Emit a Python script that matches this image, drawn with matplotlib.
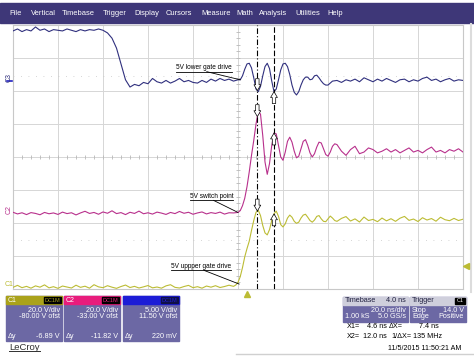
import numpy as np
import matplotlib
matplotlib.use("Agg")
import matplotlib.pyplot as plt
from matplotlib.patches import Rectangle
from matplotlib.transforms import IdentityTransform
from matplotlib.lines import Line2D

plt.rcParams['font.family'] = ['Liberation Sans', 'DejaVu Sans']

# ---- scope settings (from the readouts) ----
ns_per_div = 20.0
t_left = -104.0          # trigger (t=0) sits 0.2 div right of center, delay 4.0 ns
cursor_x1 = 4.6
cursor_x2 = 12.0
trig_level = 14.0        # V on C1

c1_vdiv, c1_ofst = 20.0, -80.0
c2_vdiv, c2_ofst = 20.0, -33.0
c3_vdiv, c3_ofst = 5.0, 11.50

# ---- C3: 5V lower gate drive (V) ----
c3_t = ([-104, -102, -100, -98, -96, -94, -92, -90, -88, -86, -84, -82, -80, -78, -76,
         -74, -72, -70, -68, -66, -64, -62, -60, -58, -56, -54, -52, -50, -48, -46,
         -44, -42, -40, -38, -36, -34, -32, -30, -28, -26, -24, -22, -20, -18, -16,
         -14, -12, -10, -8, -6, -4]
        + list(range(-3, 39))
        + list(range(40, 97, 2)))
c3_v = [7.6, 7.9, 7.5, 7.8, 7.6, 8.2, 7.7, 7.9, 7.5, 7.8, 7.7, 7.6, 7.9, 7.7, 7.5,
        7.8, 7.6, 7.8, 7.7, 7.9, 7.7, 7.3, 6.5, 5.0, 2.6, 0.2, -0.9, -0.5, -0.7, -0.2,
        -0.4, 0.4, -0.1, -0.3, 0.1, -0.3, 0.0, 0.4, -0.1, 0.1, -0.2, -0.3, 0.1, -0.2, 0.3,
        0.0, 0.4, 0.1, 0.3, 0.0, 0.2,
        # ringing
        0.2, 0.8, 1.8, 2.6, 2.7, 2.0, 0.5, -1.2, -1.6, -0.8, 0.8, 2.2, 2.7, 1.9, 0.0,
        -1.6, -1.2, 0.2, 1.7, 2.6, 2.7, 2.2, 1.0, -0.6, -1.7, -2.1, -1.6, -0.6, 0.2, 0.6,
        0.6, 0.2, 0.3, 0.8, 0.9, 0.5, 0.0, -0.4, -0.6, -0.6, -0.3, 0.0,
        # settled
        0.1, -0.2, 0.2, 0.0, 0.3, -0.1, 0.5, 0.2, -0.1, 0.3, 0.0, 0.4, 0.1, -0.2, 0.2,
        0.3, -0.1, 0.2, 0.0, 0.4, 0.6, 0.1, 0.3, -0.1, 0.2, 0.4, 0.0, 0.2, 0.1]

# ---- C2: 5V switch point (V) ----
c2_t = list(range(-104, -3, 2)) + list(range(-3, 41)) + list(range(42, 97, 2))
c2_v = [-0.5, -1.5, -0.8, -1.9, -0.7, -1.2, -2.0, -0.6, -1.4, -0.9, -1.8, -0.4, -1.3,
        -0.8, -2.1, -0.9, 0.1, -1.2, -0.6, -1.7, -0.3, -1.1, 0.4, -1.3, -0.7, -1.9, -0.5,
        -1.2, 0.2, -1.4, -0.8, -1.6, -0.4, -1.0, -1.8, -0.6, -1.3, 0.0, -1.1, -0.5, -1.7,
        -0.9, -0.3, -1.5, -0.7, -1.2, -0.4, -1.6, -0.8, -0.9, -0.6,
        # edge + ringing
        0.5, 3.5, 8.0, 15.0, 24.0, 34.0, 43.0, 53.0, 60.5, 59.0, 46.0, 30.0, 22.5, 29.0,
        40.0, 47.5, 47.0, 40.0, 33.0, 31.0, 36.0, 42.5, 45.0, 42.0, 36.5, 32.5, 33.5, 38.0,
        42.5, 43.5, 40.0, 35.5, 33.0, 35.0, 39.0, 42.0, 41.5, 38.0, 34.5, 33.5, 36.0, 39.5,
        41.0, 40.5,
        # settled
        36.5, 34.0, 37.5, 39.5, 35.0, 36.0, 38.5, 37.5, 35.5, 36.5, 38.0, 36.0, 37.5, 35.5,
        37.0, 38.5, 36.0, 37.0, 35.5, 37.5, 39.0, 36.0, 37.0, 35.5, 37.5, 36.5, 38.0, 36.0]

# ---- C1: 5V upper gate drive (V) ----
c1_t = list(range(-104, -5, 2)) + list(range(-5, 41)) + list(range(42, 97, 2))
c1_v = [1.0, 2.2, 0.8, 1.6, 0.5, 1.9, 1.1, 2.5, 0.7, 1.4, 0.4, 1.8, 1.2, 0.6, 2.3,
        1.0, 1.7, 0.5, 2.6, 1.3, 0.8, 2.0, 1.1, 0.4, 1.5, 2.4, 0.9, 1.6, 0.6, 1.3,
        2.1, 0.7, 1.2, 0.5, 1.9, 2.6, 1.0, 0.6, 1.5, 2.2, 0.8, 1.4, 0.5, 1.8, 1.1,
        2.0, 0.9, 1.5, 2.3, 1.6,
        # edge + ringing
        2.4, 4.0, 7.5, 13.0, 19.5, 24.5, 29.0, 35.5, 41.5, 46.5, 47.8, 44.5, 38.5, 34.0,
        32.8, 36.0, 41.5, 45.5, 47.2, 44.0, 39.0, 37.6, 39.5, 43.0, 44.8, 43.5, 41.0, 39.8,
        40.5, 43.0, 44.8, 45.3, 43.5, 41.5, 40.5, 41.8, 44.0, 44.5, 42.5, 41.0, 40.8, 42.5,
        44.2, 43.0, 41.5, 41.0,
        # settled
        42.8, 43.9, 41.2, 42.5, 40.6, 43.6, 41.5, 42.2, 40.8, 43.0, 41.3, 42.6, 41.0, 42.9,
        44.0, 41.6, 42.4, 40.9, 43.2, 41.8, 42.7, 41.1, 43.5, 42.0, 41.4, 42.8, 41.5, 42.3]

# colours
col_c1 = '#bcbc34'
col_c2 = '#b8308c'
col_c3 = '#30307e'
box_body = '#6c68a4'


def to_div(v, vdiv, ofst):
    return (np.asarray(v) + ofst) / vdiv


c1_d = to_div(c1_v, c1_vdiv, c1_ofst)
c2_d = to_div(c2_v, c2_vdiv, c2_ofst)
c3_d = to_div(c3_v, c3_vdiv, c3_ofst)

fig = plt.figure(figsize=(4.74, 3.56), dpi=100)
fig.patch.set_facecolor('white')

# overlay in pixel coords for the scope chrome
ov = fig.add_axes([0, 0, 1, 1])
ov.set_xlim(0, 474)
ov.set_ylim(356, 0)
ov.axis('off')
ov.set_zorder(0)

# grid area
ax = fig.add_axes([13 / 474, (356 - 289) / 356, 450 / 474, 264 / 356])
ax.set_zorder(1)
t_right = t_left + 10 * ns_per_div
ax.set_xlim(t_left, t_right)
ax.set_ylim(-4, 4)
ax.set_xticks(np.arange(t_left, t_right + 0.1, ns_per_div))
ax.set_yticks(np.arange(-4, 5, 1))
ax.grid(True, color='#d6d6d6', lw=0.7)
ax.tick_params(length=0, labelbottom=False, labelleft=False)
for s in ax.spines.values():
    s.set_color('#c8c8c8')
    s.set_linewidth(0.8)

# center axis ticks
center_t = t_left + 5 * ns_per_div
ax.vlines(np.arange(t_left, t_right + 0.1, ns_per_div / 5), -0.07, 0.07, color='#b8b8b8', lw=0.6)
ax.hlines(np.arange(-4, 4.01, 0.2), center_t - 0.7, center_t + 0.7, color='#b8b8b8', lw=0.6)
for yy in [2.45, -2.5]:
    ax.axhline(yy, color='#c8c8c8', lw=0.6, ls=(0, (1, 8)))

# traces
ax.plot(c3_t, c3_d, color=col_c3, lw=0.8, zorder=3)
ax.plot(c2_t, c2_d, color=col_c2, lw=0.8, zorder=3)
ax.plot(c1_t, c1_d, color=col_c1, lw=0.8, zorder=3)

# cursors
ax.axvline(cursor_x1, color='black', lw=0.8, ls=(0, (5, 2, 1, 2)), zorder=4)
ax.axvline(cursor_x2, color='black', lw=0.8, ls=(0, (5, 2)), zorder=4)

arrow_props = dict(arrowstyle='simple,head_length=0.6,head_width=0.7,tail_width=0.35',
                   fc='white', ec='black', lw=0.5, shrinkA=0, shrinkB=0, mutation_scale=7)
for tt, d in [(c3_t, c3_d), (c2_t, c2_d), (c1_t, c1_d)]:
    y1 = np.interp(cursor_x1, tt, d)
    y2 = np.interp(cursor_x2, tt, d)
    ax.annotate('', xy=(cursor_x1, y1), xytext=(cursor_x1, y1 + 0.36), arrowprops=arrow_props, zorder=5)
    ax.annotate('', xy=(cursor_x2, y2), xytext=(cursor_x2, y2 - 0.36), arrowprops=arrow_props, zorder=5)

# labels with leader lines
labels = [
    ('5V lower gate drive', (-31.5, 2.6), (-3.0, to_div(0.2, c3_vdiv, c3_ofst))),
    ('5V switch point', (-25.5, -1.3), (-4.0, to_div(-0.6, c2_vdiv, c2_ofst))),
    ('5V uppper gate drive', (-33.8, -3.42), (-3.5, to_div(3.0, c1_vdiv, c1_ofst))),
]
label_objs = []
for txt, pos, tip in labels:
    tx = ax.text(pos[0], pos[1], txt, fontsize=4.7, ha='left', va='bottom', zorder=5)
    label_objs.append((tx, tip))

# trigger markers
ax.plot([t_right + 1.4], [to_div(trig_level, c1_vdiv, c1_ofst)], marker='<', ms=4,
        color=col_c1, clip_on=False, zorder=6)
ax.plot([0], [-4.14], marker='^', ms=4, color=col_c1, clip_on=False, zorder=6)

# ---- chrome ----
ov.add_patch(Rectangle((0, 3), 474, 20, color='#3e3778'))
menu = ['File', 'Vertical', 'Timebase', 'Trigger', 'Display', 'Cursors', 'Measure',
        'Math', 'Analysis', 'Utilities', 'Help']
menu_x = [9, 31, 62, 103, 134, 166, 201, 236, 259, 295, 327]
for m, mx in zip(menu, menu_x):
    ov.text(mx, 13.5, m, color='white', fontsize=5.4, va='center', ha='left')

ov.plot([471, 471], [24, 292], color='#dcdcdc', lw=1.5)
ov.plot([236, 474], [354, 354], color='#d0d0d0', lw=1.0)

ov.text(9, 77, 'C3', color=col_c3, fontsize=5, rotation=90, ha='center', va='center')
ov.plot([7, 12], [81, 81], color='#2020c0', lw=1.2)
ov.text(9, 209, 'C2', color=col_c2, fontsize=5, rotation=90, ha='center', va='center')
ov.text(9, 284, 'C1', color=col_c1, fontsize=5, ha='center', va='center')

# channel boxes
channels = [
    ('C1', '#aaa21a', '#aaa21a', 6, '20.0 V/div', '-80.00 V ofst', '-6.89 V'),
    ('C2', '#e81c7c', '#e81c7c', 64, '20.0 V/div', '-33.00 V ofst', '-11.82 V'),
    ('C3', '#1c1cd6', '#1c1cd6', 123, '5.00 V/div', '11.50 V ofst', '220 mV'),
]
for name, hcol, tagcol, bx, vd, of, dy in channels:
    w = 56
    ov.add_patch(Rectangle((bx, 296), w, 45, color=box_body))
    ov.add_patch(Rectangle((bx, 296), w, 8, color=hcol))
    tag_bg = '#101048' if name == 'C3' else 'black'
    ov.add_patch(Rectangle((bx + w - 18, 297), 17, 6, color=tag_bg))
    ov.text(bx + w - 9.5, 300.2, 'DC1M', color=tagcol, fontsize=4, ha='center', va='center')
    ov.text(bx + 2, 300.2, name, color='white' if name != 'C3' else hcol, fontsize=5,
            ha='left', va='center')
    ov.text(bx + w - 2, 310, vd, color='white', fontsize=5.2, ha='right', va='center')
    ov.text(bx + w - 2, 317, of, color='white', fontsize=5.2, ha='right', va='center')
    ov.text(bx + 2, 337, 'Δy', color='white', fontsize=5.2, ha='left', va='center')
    ov.text(bx + w - 2, 337, dy, color='white', fontsize=5.2, ha='right', va='center')

lec = ov.text(9, 347, 'LeCroy', color='#303030', fontsize=6.8, ha='left', va='center')

# timebase / trigger boxes
ov.add_patch(Rectangle((343, 297), 65, 25, color=box_body))
ov.add_patch(Rectangle((343, 297), 65, 7.5, color='#cfcfdc'))
ov.text(345, 300.5, 'Timebase', color='#202040', fontsize=5.2, ha='left', va='center')
ov.text(406, 300.5, '4.0 ns', color='#202040', fontsize=5.2, ha='right', va='center')
ov.text(406, 310, '20.0 ns/div', color='white', fontsize=5.2, ha='right', va='center')
ov.text(345, 317, '1.00 kS', color='white', fontsize=5.2, ha='left', va='center')
ov.text(406, 317, '5.0 GS/s', color='white', fontsize=5.2, ha='right', va='center')

ov.add_patch(Rectangle((410, 297), 56, 25, color=box_body))
ov.add_patch(Rectangle((410, 297), 56, 7.5, color='#cfcfdc'))
ov.add_patch(Rectangle((455, 298), 10, 5.5, color='black'))
ov.text(412, 300.5, 'Trigger', color='#202040', fontsize=5.2, ha='left', va='center')
ov.text(460, 300.7, 'C1', color='white', fontsize=4, ha='center', va='center')
ov.text(412, 310, 'Stop', color='white', fontsize=5.2, ha='left', va='center')
ov.text(464, 310, '14.0 V', color='white', fontsize=5.2, ha='right', va='center')
ov.text(412, 317, 'Edge', color='white', fontsize=5.2, ha='left', va='center')
ov.text(464, 317, 'Positive', color='white', fontsize=5.2, ha='right', va='center')

# cursor readouts
ov.text(347, 327, 'X1=', fontsize=5.2, ha='left', va='center')
ov.text(387, 327, '4.6 ns', fontsize=5.2, ha='right', va='center')
ov.text(389, 327, 'ΔX=', fontsize=5.2, ha='left', va='center')
ov.text(439, 327, '7.4 ns', fontsize=5.2, ha='right', va='center')
ov.text(347, 337, 'X2=', fontsize=5.2, ha='left', va='center')
ov.text(387, 337, '12.0 ns', fontsize=5.2, ha='right', va='center')
ov.text(391, 337, '1/ΔX=', fontsize=5.2, ha='left', va='center')
ov.text(442, 337, '135 MHz', fontsize=5.2, ha='right', va='center')
ov.text(461, 349, '11/5/2015 11:50:21 AM', fontsize=5.1, ha='right', va='center')

# underlines + leader lines
fig.canvas.draw()
inv = ax.transData.inverted()
for tx, tip in label_objs:
    bb = tx.get_window_extent()
    fig.add_artist(Line2D([bb.x0, bb.x1], [bb.y0 - 0.5, bb.y0 - 0.5], color='black',
                          lw=0.6, transform=IdentityTransform(), zorder=10))
    start = inv.transform((bb.x0 + 0.55 * bb.width, bb.y0 - 0.5))
    ax.plot([start[0], tip[0]], [start[1], tip[1]], color='black', lw=0.6, zorder=5)

bb = lec.get_window_extent()
fig.add_artist(Line2D([bb.x0, bb.x1], [bb.y0 + 0.5, bb.y0 + 0.5], color='#303030',
                      lw=0.7, transform=IdentityTransform(), zorder=10))

fig.savefig('out.png', dpi=100)
